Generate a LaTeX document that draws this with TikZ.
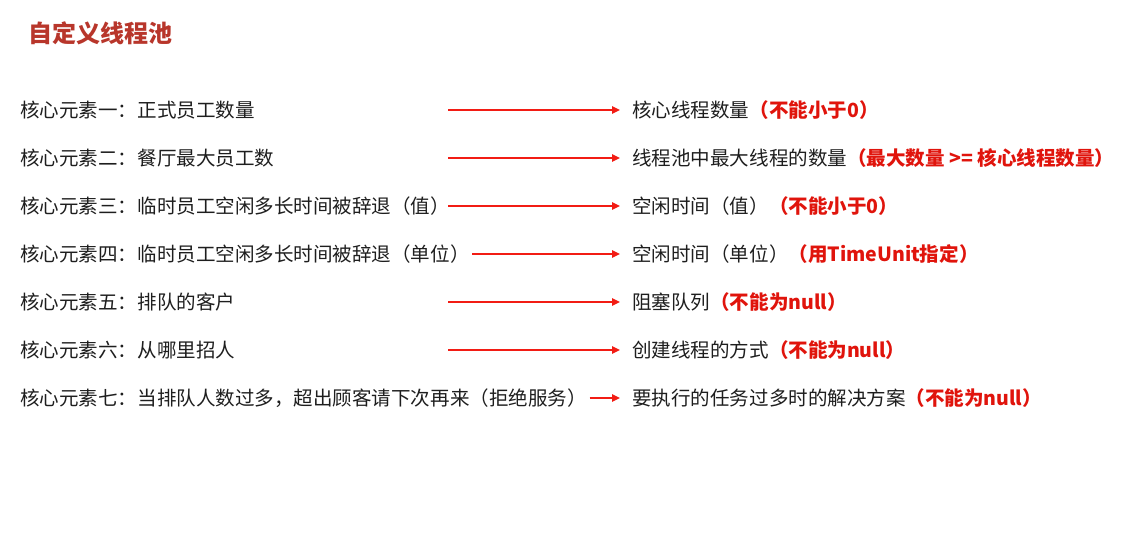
\documentclass[tikz,border=0pt]{standalone}
\usepackage{fontspec}
\setmainfont{Noto Sans CJK SC}
\usepackage{xcolor}
\usepackage{tikz}
\usetikzlibrary{
arrows.meta,
positioning
}
\definecolor{titlered}{HTML}{B8362B}
\definecolor{hint}{HTML}{E0140C}
\definecolor{wire}{HTML}{F21C14}
\definecolor{ink}{HTML}{1E1E1E}
\newcommand{\hintx}[1]{\textcolor{hint}{\bfseries #1}}

\tikzset{
item/.style={
anchor=west,
inner sep=0pt,
text=ink,
font=\fontsize{14.65}{17}\selectfont
},
goal/.style={
item,
inner xsep=0pt
},
link/.style={
draw=wire,
line width=1.2pt,
-{Triangle[length=6pt,width=5.5pt]},
shorten >=9pt
}
}

\begin{document}
\begin{tikzpicture}[x=0.75pt,y=-0.75pt]
\useasboundingbox (0,0) rectangle (1138,557);

\node[
anchor=west,
inner sep=0pt,
text=titlered,
font=\fontsize{18}{22}\selectfont\bfseries
]
(title) at (28,33)
{
自定义线程池
};

% left column
\node[item] (k1) at (20,110) {核心元素一：正式员工数量};
\node[item] (k2) at (20,158) {核心元素二：餐厅最大员工数};
\node[item] (k3) at (20,206) {核心元素三：临时员工空闲多长时间被辞退（值）};
\node[item] (k4) at (20,254) {核心元素四：临时员工空闲多长时间被辞退（单位）};
\node[item] (k5) at (20,302) {核心元素五：排队的客户};
\node[item] (k6) at (20,350) {核心元素六：从哪里招人};
\node[item] (k7) at (20,398) {核心元素七：当排队人数过多，超出顾客请下次再来（拒绝服务）};

% right column
\node[goal] (p1) at (632,110) {核心线程数量\hintx{（不能小于0）}};
\node[goal] (p2) at (632,158) {线程池中最大线程的数量\hintx{（最大数量 >= 核心线程数量）}};
\node[goal] (p3) at (632,206) {空闲时间（值）\hintx{（不能小于0）}};
\node[goal] (p4) at (632,254) {空闲时间（单位）\hintx{（用TimeUnit指定）}};
\node[goal] (p5) at (632,302) {阻塞队列\hintx{（不能为null）}};
\node[goal] (p6) at (632,350) {创建线程的方式\hintx{（不能为null）}};
\node[goal] (p7) at (632,398) {要执行的任务过多时的解决方案\hintx{（不能为null）}};

% arrow starts
\coordinate (s1) at (448,110);
\coordinate (s2) at (448,158);
\coordinate (s3) at (448,206);
\coordinate (s5) at (448,302);
\coordinate (s6) at (448,350);

\draw[link] (s1) -- (p1.west);
\draw[link] (s2) -- (p2.west);
\draw[link] (s3) -- (p3.west);
\draw[link] ([xshift=2pt]k4.east) -- (p4.west);
\draw[link] (s5) -- (p5.west);
\draw[link] (s6) -- (p6.west);
\draw[link] ([xshift=2pt]k7.east) -- (p7.west);

\end{tikzpicture}
\end{document}
